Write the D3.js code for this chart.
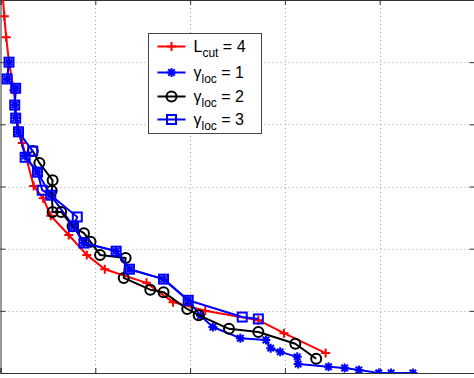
<!DOCTYPE html>
<html>
<head>
<meta charset="utf-8">
<script src="https://cdn.jsdelivr.net/npm/d3@7"></script>
<style>
  body { margin: 0; background: #fff; }
  svg { display: block; }
</style>
</head>
<body>
<div id="chart"></div>
<script>
// Datos (unidades del eje)
const lcutX = [0.02, 0.04, 0.06, 0.09, 0.14, 0.17, 0.23, 0.35, 0.45, 0.53, 0.72, 0.91, 1.10, 1.54, 1.82, 2.16, 2.72, 2.99, 3.43];
const lcutY = [6.13, 5.74, 5.40, 5.00, 4.55, 4.10, 3.70, 3.01, 2.81, 2.53, 2.22, 1.90, 1.67, 1.45, 1.14, 1.00, 0.85, 0.64, 0.32];

const loc1X = [0.09, 0.07, 0.16, 0.15, 0.16, 0.19, 0.26, 0.39, 0.53, 0.77, 0.88, 1.22, 1.36, 1.72, 1.98, 2.11, 2.24, 2.53, 2.80, 2.85, 2.95, 3.13, 3.14, 3.46, 3.63, 3.78, 3.99, 4.12, 4.35];
const loc1Y = [5.00, 4.73, 4.58, 4.31, 4.10, 3.88, 3.49, 3.23, 2.86, 2.36, 2.09, 1.96, 1.67, 1.51, 1.17, 0.92, 0.74, 0.56, 0.53, 0.40, 0.34, 0.26, 0.145, 0.10, 0.08, 0.05, 0, 0, 0];

const loc2X = [0.34, 0.41, 0.55, 0.54, 0.55, 0.64, 0.76, 0.88, 0.95, 1.05, 1.32, 1.30, 1.58, 1.72, 1.97, 2.09, 2.41, 2.72, 3.11, 3.33];
const loc2Y = [3.57, 3.38, 3.10, 2.93, 2.59, 2.59, 2.36, 2.25, 2.11, 1.90, 1.85, 1.53, 1.34, 1.30, 1.03, 0.93, 0.71, 0.66, 0.47, 0.23];

const loc3X = [0.09, 0.07, 0.16, 0.15, 0.16, 0.19, 0.34, 0.26, 0.39, 0.44, 0.53, 0.81, 0.77, 0.88, 1.22, 1.36, 1.72, 1.98, 2.55, 2.72];
const loc3Y = [5.00, 4.73, 4.58, 4.31, 4.10, 3.88, 3.57, 3.47, 3.23, 2.94, 2.86, 2.51, 2.36, 2.09, 1.96, 1.67, 1.51, 1.17, 0.90, 0.87];

const xTicks = [0, 1, 2, 3, 4, 5];
const yTicks = [0, 1, 2, 3, 4, 5, 6];

const series = [
  { name: "L", sub: "cut", val: "4", xs: lcutX, ys: lcutY, color: "#ff0000", marker: "plus" },
  { name: "\u03b3", sub: "loc", val: "1", xs: loc1X, ys: loc1Y, color: "#0000ff", marker: "star" },
  { name: "\u03b3", sub: "loc", val: "2", xs: loc2X, ys: loc2Y, color: "#000000", marker: "circle" },
  { name: "\u03b3", sub: "loc", val: "3", xs: loc3X, ys: loc3Y, color: "#0000ff", marker: "square" }
];

// ==============================
// SVG Y ESCALAS
// ==============================
const width = 474;
const height = 378;

const svg = d3.select("#chart").append("svg")
  .attr("width", width)
  .attr("height", height);

const x = d3.scaleLinear().domain([0, 5]).range([0.5, 474.5]);
const y = d3.scaleLinear().domain([0, 6]).range([373, 0]);

svg.append("defs").append("clipPath").attr("id", "plot-clip")
  .append("rect")
  .attr("x", x(0)).attr("y", y(6))
  .attr("width", x(5) - x(0)).attr("height", y(0) - y(6));

// Rejilla punteada
const grid = svg.append("g").attr("stroke", "#a8a8a8").attr("stroke-width", 1)
  .attr("stroke-dasharray", "1,3");
grid.selectAll("line.gx").data(xTicks.slice(1, -1)).join("line")
  .attr("x1", d => Math.round(x(d)) + 0.5).attr("x2", d => Math.round(x(d)) + 0.5)
  .attr("y1", y(6)).attr("y2", y(0));
grid.selectAll("line.gy").data(yTicks.slice(1, -1)).join("line")
  .attr("y1", d => Math.round(y(d)) + 0.5).attr("y2", d => Math.round(y(d)) + 0.5)
  .attr("x1", x(0)).attr("x2", x(5));

// Ejes (ticks hacia dentro, sin etiquetas)
const axisColor = "#333";
svg.append("g").attr("transform", `translate(0,${y(0)})`)
  .call(d3.axisBottom(x).tickValues(xTicks).tickSize(-5).tickFormat(""));
svg.append("g").attr("transform", `translate(0,${y(6)})`)
  .call(d3.axisTop(x).tickValues(xTicks).tickSize(-5).tickFormat(""));
svg.append("g").attr("transform", `translate(${x(0)},0)`)
  .call(d3.axisLeft(y).tickValues(yTicks).tickSize(-5).tickFormat(""));
svg.append("g").attr("transform", `translate(${x(5)},0)`)
  .call(d3.axisRight(y).tickValues(yTicks).tickSize(-5).tickFormat(""));
svg.selectAll(".domain, .tick line").attr("stroke", axisColor);

// Marcadores
function drawMarker(g, type, color, cx, cy) {
  const s = 4.5;
  if (type === "plus") {
    g.append("path").attr("d", `M${cx - s},${cy}H${cx + s}M${cx},${cy - s}V${cy + s}`)
      .attr("stroke", color).attr("stroke-width", 2).attr("fill", "none");
  } else if (type === "star") {
    const d = s * 0.72;
    g.append("path")
      .attr("d", `M${cx - s},${cy}H${cx + s}M${cx},${cy - s}V${cy + s}M${cx - d},${cy - d}L${cx + d},${cy + d}M${cx - d},${cy + d}L${cx + d},${cy - d}`)
      .attr("stroke", color).attr("stroke-width", 2).attr("fill", "none");
  } else if (type === "circle") {
    g.append("circle").attr("cx", cx).attr("cy", cy).attr("r", 5)
      .attr("stroke", color).attr("stroke-width", 2).attr("fill", "none");
  } else if (type === "square") {
    g.append("rect").attr("x", cx - 4.5).attr("y", cy - 4.5).attr("width", 9).attr("height", 9)
      .attr("stroke", color).attr("stroke-width", 2).attr("fill", "none");
  }
}

const plot = svg.append("g").attr("clip-path", "url(#plot-clip)");
const line = d3.line().x(d => x(d[0])).y(d => y(d[1]));

series.forEach(s => {
  const pts = s.xs.map((v, i) => [v, s.ys[i]]);
  const g = plot.append("g");
  g.append("path").datum(pts).attr("d", line)
    .attr("fill", "none").attr("stroke", s.color).attr("stroke-width", 2)
    .attr("stroke-linejoin", "round");
  pts.forEach(p => drawMarker(g, s.marker, s.color, x(p[0]), y(p[1])));
});

// ==============================
// LEYENDA
// ==============================
const legend = svg.append("g").attr("transform", "translate(148.5,33.5)");
legend.append("rect").attr("width", 113).attr("height", 100)
  .attr("fill", "#fff").attr("stroke", "#444").attr("stroke-width", 1);

const rowY = [13, 39, 63, 86];
series.forEach((s, i) => {
  const ry = rowY[i];
  legend.append("line").attr("x1", 9).attr("x2", 37).attr("y1", ry).attr("y2", ry)
    .attr("stroke", s.color).attr("stroke-width", 2);
  drawMarker(legend, s.marker, s.color, 23, ry);
  const t = legend.append("text").attr("x", 45).attr("y", ry + 5)
    .attr("font-family", "Liberation Sans, Arial, Helvetica, sans-serif")
    .attr("font-size", 16).attr("fill", "#000");
  t.append("tspan").text(s.name);
  t.append("tspan").attr("dy", 5).attr("font-size", 12).text(s.sub);
  t.append("tspan").attr("dy", -5).text(" = " + s.val);
});
</script>
</body>
</html>
